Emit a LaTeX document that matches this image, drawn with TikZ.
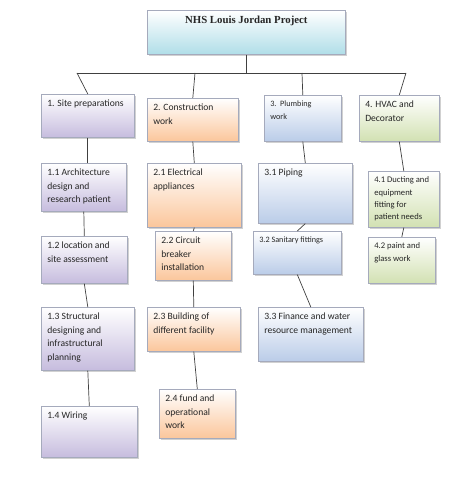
\documentclass[tikz,border=0pt]{standalone}
\usepackage{fontspec}
\usepackage{xcolor}
\usepackage{tikz}
\usetikzlibrary{shadows}
\newfontfamily\calibri{Carlito}
\newfontfamily\timesfont{Liberation Serif}
\definecolor{rootC}{RGB}{176,222,232}
\definecolor{purpleC}{RGB}{198,188,222}
\definecolor{orangeC}{RGB}{251,198,155}
\definecolor{blueC}{RGB}{186,204,232}
\definecolor{greenC}{RGB}{210,225,178}
\definecolor{borderC}{RGB}{165,170,188}
\newcommand\wbstext[3]{\parbox[t][\dimexpr#2pt-11pt\relax][t]{\dimexpr#1pt-12pt\relax}{\raggedright#3}}
\tikzset{
  wbsbox/.style={
    rectangle, draw=borderC, line width=0.6pt, anchor=north west,
    inner xsep=6pt, inner ysep=5.5pt, text=black!85,
    font=\calibri\fontsize{9.6}{13.6}\selectfont,
    drop shadow={shadow xshift=1.3pt, shadow yshift=-1.3pt, opacity=0.3, fill=black!60}
  },
  wbsroot/.style={wbsbox, top color=white, bottom color=rootC,
    font=\timesfont\bfseries\fontsize{10.8}{12}\selectfont},
  wbspurple/.style={wbsbox, top color=white, bottom color=purpleC},
  wbsorange/.style={wbsbox, top color=white, bottom color=orangeC},
  wbsblue/.style={wbsbox, top color=white, bottom color=blueC},
  wbsgreen/.style={wbsbox, top color=white, bottom color=greenC},
  wbssmall/.style={font=\calibri\fontsize{8.2}{12.7}\selectfont},
  wbsmid/.style={font=\calibri\fontsize{8.6}{12.4}\selectfont},
  wbsline/.style={draw=black!75, line width=0.7pt},
}
\begin{document}
\begin{tikzpicture}[x=1pt, y=-1pt]
  \useasboundingbox (0,0) rectangle (474,481);
  % top of the breakdown
  \node[wbsroot] (root) at (147,10) {\wbstext{198}{44}{\centering NHS Louis Jordan Project}};
  % level one
  \node[wbspurple] (n1) at (41,94) {\wbstext{93}{43}{1. Site preparations}};
  \node[wbsorange] (n2) at (147,98) {\wbstext{91}{43}{2. Construction\\work}};
  \node[wbsblue, wbssmall] (n3) at (264,95) {\wbstext{77}{46}{3.\ \ Plumbing\\work}};
  \node[wbsgreen] (n4) at (359,95) {\wbstext{80}{46}{4. HVAC and\\Decorator}};
  % level two
  \node[wbspurple] (n11) at (41,163) {\wbstext{85}{48}{1.1 Architecture\\design and\\research patient}};
  \node[wbspurple] (n12) at (41,236) {\wbstext{86}{47}{1.2 location and\\site assessment}};
  \node[wbspurple] (n13) at (41,307) {\wbstext{93}{63}{1.3 Structural\\designing and\\infrastructural\\planning}};
  \node[wbspurple] (n14) at (41,406) {\wbstext{96}{51}{1.4 Wiring}};
  \node[wbsorange] (n21) at (147,163) {\wbstext{94}{64}{2.1 Electrical\\appliances}};
  \node[wbsorange] (n22) at (155,231) {\wbstext{76}{49}{2.2 Circuit\\breaker\\installation}};
  \node[wbsorange] (n23) at (147,307) {\wbstext{93}{44}{2.3 Building of\\different facility}};
  \node[wbsorange] (n24) at (159,389) {\wbstext{76}{49}{2.4 fund and\\operational\\work}};
  \node[wbsblue] (n31) at (258,163) {\wbstext{94}{60}{3.1 Piping}};
  \node[wbsblue, wbssmall] (n32) at (253,231) {\wbstext{88}{43}{3.2 Sanitary fittings}};
  \node[wbsblue] (n33) at (258,307) {\wbstext{105}{54}{3.3 Finance and water\\resource management}};
  \node[wbsgreen, wbsmid] (n41) at (368,171) {\wbstext{71}{56}{4.1 Ducting and\\equipment\\fitting for\\patient needs}};
  \node[wbsgreen, wbsmid] (n42) at (368,237) {\wbstext{67}{46}{4.2 paint and\\glass work}};
  % connectors
  \coordinate (busL) at (77,73);
  \coordinate (busR) at (406,73);
  \coordinate (bus2) at (195,73);
  \coordinate (bus3) at (302,73);
  \draw[wbsline] (root.south) -- (root.south |- busL);
  \draw[wbsline] (busL) -- (busR);
  \draw[wbsline] (busL) -- (n1.north); \draw[wbsline] (bus2) -- (n2.north);
  \draw[wbsline] (bus3) -- (n3.north); \draw[wbsline] (busR) -- (n4.north);
  \draw[wbsline] (n1.south) -- (n1.south |- n11.north);
  \draw[wbsline] (n11.south) -- (n12.north);
  \draw[wbsline] (n12.south) -- (n13.north);
  \draw[wbsline] (n13.south) -- (n14.north);
  \draw[wbsline] (n2.south) -- (n21.north);
  \draw[wbsline] (n21.south) -- (n22.north);
  \draw[wbsline] (n22.south) -- (n23.north);
  \draw[wbsline] (n23.south) -- (n24.north);
  \draw[wbsline] (n3.south) -- (n31.north);
  \draw[wbsline] (n31.south) -- (n32.north);
  \draw[wbsline] (n32.south) -- (n33.north);
  \draw[wbsline] (n4.south) -- (n41.north);
  \draw[wbsline] (n41.south) -- (n42.north);
\end{tikzpicture}
\end{document}
